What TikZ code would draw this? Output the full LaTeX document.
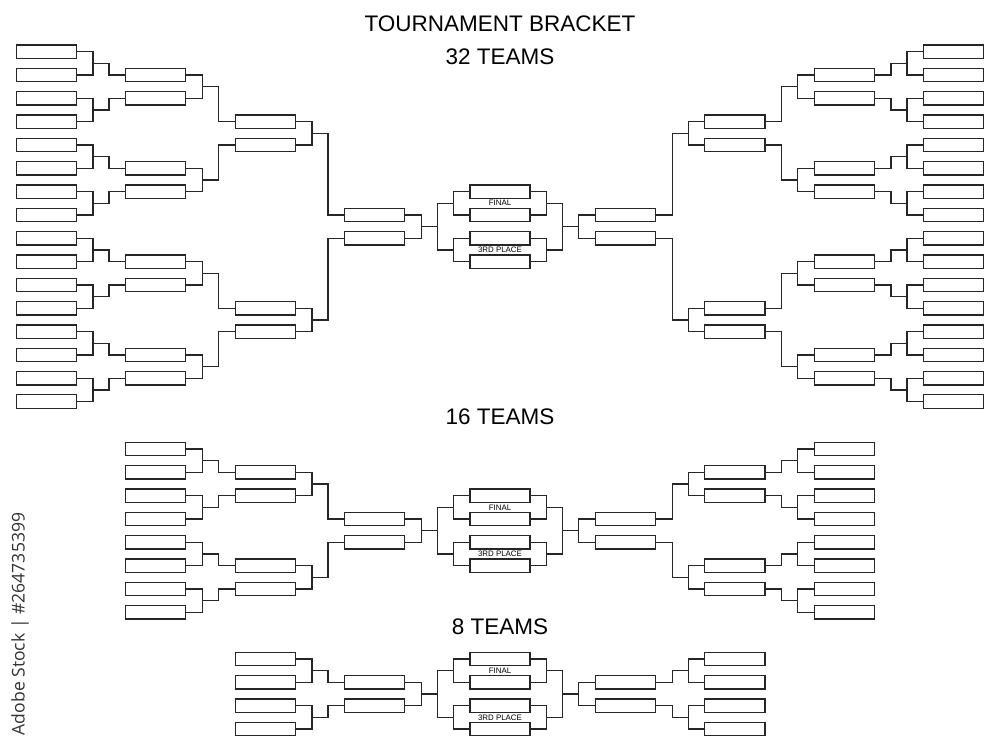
\documentclass[tikz,border=0pt]{standalone}
\usepackage{fontspec}
\setmainfont{Liberation Sans}
\newfontfamily\stockfont{Open Sans}
\usetikzlibrary{calc}

\tikzset{
  team/.style={draw=black!85, line width=0.7pt, minimum width=12.03mm, minimum height=2.67mm, inner sep=0pt},
  link/.style={draw=black!85, line width=0.7pt},
  tag/.style={font=\fontsize{4.5}{5}\selectfont, inner sep=0pt},
  heading/.style={font=\fontsize{12.8}{15}\selectfont, inner sep=0pt}
}

\begin{document}
\begin{tikzpicture}[x=0.2mm, y=-0.2mm]
\useasboundingbox (0,0) rectangle (1000,750);

\node[heading] (title) at (500,23.3) {TOURNAMENT BRACKET};
\node[heading] (head32) at (500,56.8) {32 TEAMS};
\node[heading] (head16) at (500,416.7) {16 TEAMS};
\node[heading] (head8) at (500,626.5) {8 TEAMS};
\node[rotate=90, font=\stockfont\fontsize{10}{12}\selectfont, text=black!80] (stock) at (20,624) {Adobe Stock | \#264735399};

% 32 teams
\foreach \r/\k in {6/0,7/1,8/2,9/3}
  \node[team] (c32-\k) at (500,{51.6+23.33*\r}) {};
\node[tag] at ($(c32-0)!.5!(c32-1)$) {FINAL};
\node[tag] at ($(c32-2)!.5!(c32-3)$) {3RD PLACE};
\foreach \s/\sg/\st/\ct/\e/\w in {l/-1/16/-16/east/west, r/1/-16/16/west/east} {
  \foreach \d/\rows in {4/{0,...,15}, 3/{1,2,5,6,9,10,13,14}, 2/{3,4,11,12}, 1/{7,8}}
    \foreach \r in \rows
      \node[team] (\s32-\d-\r) at ({\sg*(125.4+109.4*(\d-1))+500},{51.6+23.33*\r}) {};
  \foreach \d/\n/\pairs in {4/3/{0/1/1,2/3/2,4/5/5,6/7/6,8/9/9,10/11/10,12/13/13,14/15/14},
                            3/2/{1/2/3,5/6/4,9/10/11,13/14/12}, 2/1/{3/4/7,11/12/8}}
    \foreach \a/\b/\t in \pairs {
      \draw[link] (\s32-\d-\a.\e) -- ++(\st,0) |- (\s32-\d-\b.\e);
      \draw[link] ($(\s32-\d-\a.\e)!.5!(\s32-\d-\b.\e)+(\st,0)$) -- ++(\st,0) |- (\s32-\n-\t.\w);
    }
  \draw[link] (\s32-1-7.\e) -- ++(\st,0) |- (\s32-1-8.\e);
  \draw[link] ($(\s32-1-7.\e)!.5!(\s32-1-8.\e)+(\st,0)$) -- ++(\st,0) coordinate (\s32-sp)
    |- ($(c32-0.\w)!.5!(c32-1.\w)+(\ct,0)$);
  \draw[link] (\s32-sp) |- ($(c32-2.\w)!.5!(c32-3.\w)+(\ct,0)$);
  \draw[link] (c32-0.\w) -- ++(\ct,0) |- (c32-1.\w);
  \draw[link] (c32-2.\w) -- ++(\ct,0) |- (c32-3.\w);
}

% 16 teams
\foreach \r/\k in {2/0,3/1,4/2,5/3}
  \node[team] (c16-\k) at (500,{449+23.33*\r}) {};
\node[tag] at ($(c16-0)!.5!(c16-1)$) {FINAL};
\node[tag] at ($(c16-2)!.5!(c16-3)$) {3RD PLACE};
\foreach \s/\sg/\st/\ct/\e/\w in {l/-1/16/-16/east/west, r/1/-16/16/west/east} {
  \foreach \d/\rows in {3/{0,...,7}, 2/{1,2,5,6}, 1/{3,4}}
    \foreach \r in \rows
      \node[team] (\s16-\d-\r) at ({\sg*(125.4+109.4*(\d-1))+500},{449+23.33*\r}) {};
  \foreach \d/\n/\pairs in {3/2/{0/1/1,2/3/2,4/5/5,6/7/6}, 2/1/{1/2/3,5/6/4}}
    \foreach \a/\b/\t in \pairs {
      \draw[link] (\s16-\d-\a.\e) -- ++(\st,0) |- (\s16-\d-\b.\e);
      \draw[link] ($(\s16-\d-\a.\e)!.5!(\s16-\d-\b.\e)+(\st,0)$) -- ++(\st,0) |- (\s16-\n-\t.\w);
    }
  \draw[link] (\s16-1-3.\e) -- ++(\st,0) |- (\s16-1-4.\e);
  \draw[link] ($(\s16-1-3.\e)!.5!(\s16-1-4.\e)+(\st,0)$) -- ++(\st,0) coordinate (\s16-sp)
    |- ($(c16-0.\w)!.5!(c16-1.\w)+(\ct,0)$);
  \draw[link] (\s16-sp) |- ($(c16-2.\w)!.5!(c16-3.\w)+(\ct,0)$);
  \draw[link] (c16-0.\w) -- ++(\ct,0) |- (c16-1.\w);
  \draw[link] (c16-2.\w) -- ++(\ct,0) |- (c16-3.\w);
}

% 8 teams
\foreach \r/\k in {0/0,1/1,2/2,3/3}
  \node[team] (c8-\k) at (500,{659+23.33*\r}) {};
\node[tag] at ($(c8-0)!.5!(c8-1)$) {FINAL};
\node[tag] at ($(c8-2)!.5!(c8-3)$) {3RD PLACE};
\foreach \s/\sg/\st/\ct/\e/\w in {l/-1/16/-16/east/west, r/1/-16/16/west/east} {
  \foreach \d/\rows in {2/{0,...,3}, 1/{1,2}}
    \foreach \r in \rows
      \node[team] (\s8-\d-\r) at ({\sg*(125.4+109.4*(\d-1))+500},{659+23.33*\r}) {};
  \foreach \a/\b/\t in {0/1/1,2/3/2} {
    \draw[link] (\s8-2-\a.\e) -- ++(\st,0) |- (\s8-2-\b.\e);
    \draw[link] ($(\s8-2-\a.\e)!.5!(\s8-2-\b.\e)+(\st,0)$) -- ++(\st,0) |- (\s8-1-\t.\w);
  }
  \draw[link] (\s8-1-1.\e) -- ++(\st,0) |- (\s8-1-2.\e);
  \draw[link] ($(\s8-1-1.\e)!.5!(\s8-1-2.\e)+(\st,0)$) -- ++(\st,0) coordinate (\s8-sp)
    |- ($(c8-0.\w)!.5!(c8-1.\w)+(\ct,0)$);
  \draw[link] (\s8-sp) |- ($(c8-2.\w)!.5!(c8-3.\w)+(\ct,0)$);
  \draw[link] (c8-0.\w) -- ++(\ct,0) |- (c8-1.\w);
  \draw[link] (c8-2.\w) -- ++(\ct,0) |- (c8-3.\w);
}
\end{tikzpicture}
\end{document}
